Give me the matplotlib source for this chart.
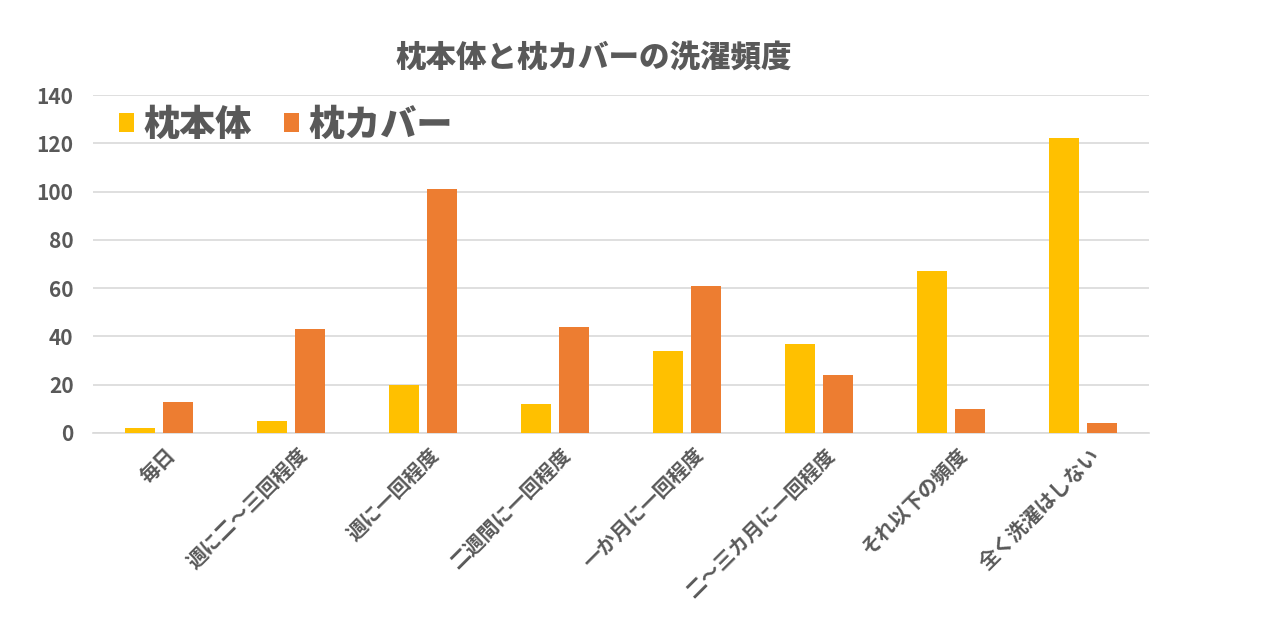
#!/usr/bin/env python3
"""枕本体と枕カバーの洗濯頻度"""

import os

os.environ.setdefault("MPLBACKEND", "Agg")

import matplotlib.pyplot as plt
import numpy as np

plt.rcParams["font.family"] = ["Noto Sans CJK JP", "DejaVu Sans"]

categories = [
    "毎日",
    "週に二～三回程度",
    "週に一回程度",
    "二週間に一回程度",
    "一か月に一回程度",
    "二～三カ月に一回程度",
    "それ以下の頻度",
    "全く洗濯はしない",
]
pillow = [2, 5, 20, 12, 34, 37, 67, 122]
cover = [13, 43, 101, 44, 61, 24, 10, 4]
series_names = ["枕本体", "枕カバー"]

YELLOW = "#FFC000"
ORANGE = "#ED7D31"
TEXT = "#595959"


def main():
    fig = plt.figure(figsize=(12.8, 6.39), dpi=100)
    ax = fig.add_axes([0.0727, 0.3224, 0.8253, 0.5289])

    x = np.arange(len(categories))
    w = 0.227
    off = 0.144
    ax.bar(x - off, pillow, w, color=YELLOW, label=series_names[0], zorder=3)
    ax.bar(x + off, cover, w, color=ORANGE, label=series_names[1], zorder=3)

    ax.set_xlim(-0.5, len(categories) - 0.5)
    ax.set_ylim(0, 140)
    ax.set_yticks(range(0, 141, 20))
    ax.yaxis.grid(True, color="#D9D9D9", linewidth=1.2, zorder=0)
    ax.set_axisbelow(True)
    for s in ax.spines.values():
        s.set_visible(False)
    ax.spines["bottom"].set_visible(True)
    ax.spines["bottom"].set_color("#D9D9D9")
    ax.spines["bottom"].set_linewidth(1.2)
    ax.tick_params(axis="both", length=0, colors=TEXT)
    ax.tick_params(axis="y", labelsize=15, pad=14)
    for t in ax.get_yticklabels():
        t.set_fontweight("bold")

    ax.set_xticks(x + 0.04)
    ax.set_xticklabels(categories, rotation=45, ha="right", rotation_mode="anchor",
                       fontsize=14.5, fontweight="bold", color=TEXT)
    ax.tick_params(axis="x", pad=8)

    leg = ax.legend(loc="upper left", bbox_to_anchor=(0.004, 1.03), ncol=2, frameon=False,
                    prop={"size": 26, "weight": "heavy"}, handlelength=0.42,
                    handleheight=0.42, handletextpad=0.25, columnspacing=0.9,
                    borderaxespad=0.2)
    for t in leg.get_texts():
        t.set_color(TEXT)

    fig.text(0.464, 0.91, "枕本体と枕カバーの洗濯頻度", ha="center", va="center",
             fontsize=22, fontweight="heavy", color=TEXT)

    fig.savefig("out.png", dpi=100)
    plt.close(fig)


if __name__ == "__main__":
    main()
